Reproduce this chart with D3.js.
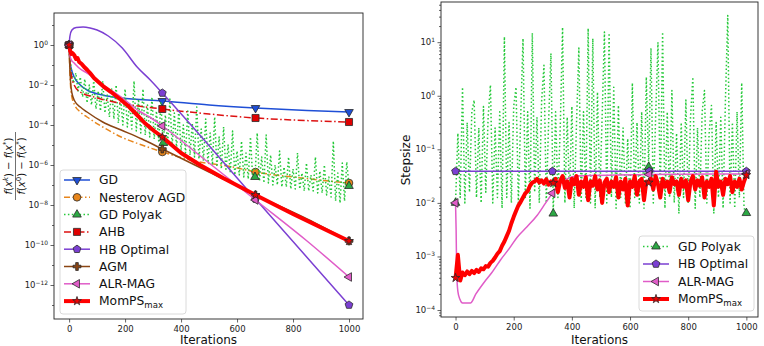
<!DOCTYPE html>
<html>
<head>
<meta charset="utf-8">
<script src="https://cdn.jsdelivr.net/npm/d3@7"></script>
<style>
  body { margin: 0; background: #fff; }
  svg { display: block; font-family: 'DejaVu Sans', sans-serif; }
</style>
</head>
<body>
<script>
const width = 764
const height = 346

// iteration grid used by the noisy series, and where the markers sit
const gridIt = d3.range(0, 1001, 8)
const markIters = [0, 333, 666, 1000]

/* ---- left panel: (f(x^k)-f(x*)) / (f(x^0)-f(x*)), stored as log10 ---- */
const gdIt = [0, 3, 8, 18, 40, 64, 120, 186, 333, 500, 666, 850, 1000]
const gdExp = [0, -0.8, -1.2, -1.6, -2.0, -2.25, -2.5, -2.65, -2.8, -3.0, -3.15, -3.28, -3.35]

const nagIt = [0, 2, 5, 10, 20, 40, 64, 120, 186, 260, 333, 450, 585, 666, 800, 1000]
const nagExp = [0, -1.0, -2.0, -2.6, -3.0, -3.35, -3.6, -4.1, -4.6, -5.0, -5.35, -5.8, -6.1, -6.35, -6.6, -6.9]

const polyakExp = [
  0, -1.3, -1.9, -1.4, -2.3, -1.6, -2.6, -1.7, -2.9, -2.0,
  -3.0, -1.8, -3.2, -2.3, -3.3, -1.8, -3.4, -2.5, -3.6, -2.2,
  -3.7, -2.0, -3.9, -2.6, -4.0, -2.2, -4.1, -2.9, -4.2, -1.8,
  -4.3, -2.7, -4.4, -2.2, -4.5, -3.0, -4.6, -2.6, -4.7, -3.3,
  -4.8, -2.9, -4.9, -3.5, -5.0, -2.7, -5.1, -3.4, -5.2, -3.2,
  -5.3, -4.0, -5.4, -3.3, -5.5, -3.9, -5.6, -3.1, -5.7, -4.2,
  -5.8, -3.7, -5.9, -4.4, -6.0, -3.6, -6.1, -4.6, -6.2, -4.1,
  -6.3, -5.0, -6.4, -4.3, -6.5, -5.3, -6.5, -4.8, -6.6, -5.4,
  -6.7, -4.6, -6.7, -6.6, -4.4, -6.8, -5.6, -6.9, -4.5, -6.9,
  -5.5, -7.0, -6.0, -7.0, -5.3, -7.1, -6.1, -7.1, -5.6, -7.2,
  -6.2, -7.2, -5.4, -7.2, -6.4, -7.3, -5.9, -7.3, -6.5, -7.3,
  -5.6, -7.4, -6.3, -7.4, -6.0, -7.5, -6.6, -7.6, -4.8, -7.8,
  -6.4, -7.9, -5.9, -7.8, -5.85, -7.05
]

const ahbIt = [0, 3, 8, 18, 40, 89, 200, 333, 500, 666, 850, 1000]
const ahbExp = [0, -0.9, -1.5, -2.0, -2.35, -2.6, -2.95, -3.2, -3.45, -3.65, -3.78, -3.85]

const hbIt = [0, 3, 10, 25, 50, 75, 100, 140, 190, 243, 290, 333, 666, 1000]
const hbExp = [0, 0.45, 0.75, 0.88, 0.9, 0.85, 0.75, 0.45, -0.15, -1.1, -1.75, -2.4, -7.7, -13.0]

const agmIt = [0, 2, 5, 10, 20, 40, 64, 120, 186, 260, 333, 500, 666, 850, 1000]
const agmExp = [0, -0.9, -1.8, -2.4, -2.8, -3.1, -3.35, -3.85, -4.25, -4.7, -5.2, -6.35, -7.5, -8.7, -9.8]

const alrIt = [0, 3, 8, 18, 40, 64, 120, 186, 250, 288, 333, 500, 666, 850, 1000]
const alrExp = [0, -0.5, -0.75, -0.9, -1.2, -1.4, -2.0, -2.6, -3.3, -3.6, -4.05, -5.9, -7.75, -9.8, -11.6]

const momIt = [0, 4, 8, 12, 18, 25, 30, 36, 45, 54, 65, 75, 89, 105, 125, 150, 186, 215, 243, 270, 304, 333, 400, 468, 550, 666, 800, 1000]
const momExp = [0, -0.3, -0.45, -0.4, -0.5, -0.7, -0.65, -0.85, -0.95, -1.1, -1.25, -1.4, -1.65, -1.85, -2.1, -2.35, -2.75, -3.1, -3.5, -3.9, -4.3, -4.6, -5.4, -6.0, -6.65, -7.5, -8.45, -9.8]

/* ---- right panel: stepsize, stored as log10 ---- */
const stepPolyakExp = [
  -2.0, -0.7, -1.9, 0.16, -2.0, -0.5, -1.8, -0.3, -0.08, -1.9,
  -0.6, -2.0, -0.2, -1.8, -0.4, 0.2, -2.0, -0.6, -1.9, -0.3,
  -2.1, 1.1, -1.9, -0.5, -2.0, -0.2, 0.16, -2.0, -0.4, 1.07,
  -1.9, -0.3, -2.1, 1.17, -1.8, -0.4, -2.0, -0.1, 0.57, -2.0,
  -0.5, 0.79, -2.2, -0.3, -1.9, -0.6, 1.28, -2.0, -0.4, -1.9,
  -0.2, -2.1, -0.5, 0.89, -2.0, -0.3, -1.9, 1.26, -2.0, 1.07,
  -2.1, 0.07, -1.9, -0.4, 1.19, -2.0, 1.17, -1.9, 0.16, -2.1,
  -0.18, -1.9, -0.6, -2.0, -0.8, -2.1, 0.24, -1.9, -0.5, -2.0,
  -0.3, -2.1, 0.35, -1.33, 0.89, -2.0, -0.4, 1.0, -1.9, 1.19,
  -2.1, -0.3, -1.9, 0.1, -2.0, -0.7, -2.2, -0.5, -1.9, -0.08,
  -2.0, -0.4, 0.35, -2.1, -0.6, -1.9, -0.3, 0.1, -2.0, -0.7,
  -0.18, -2.2, -0.5, -1.9, -0.4, -2.1, -0.08, 1.5, -2.0, -0.5,
  -2.1, -0.3, -1.9, 0.24, -2.1, -2.19
]

const stepHbIt = [0, 333, 666, 1000]
const stepHbExp = [-1.41, -1.41, -1.41, -1.41]

const stepAlrIt = [0, 2, 4, 8, 15, 24, 51, 70, 96, 125, 154, 185, 212, 245, 281, 310, 333, 370, 420, 666, 1000]
const stepAlrExp = [-2.0, -2.5, -3.3, -3.65, -3.8, -3.87, -3.87, -3.7, -3.5, -3.3, -3.07, -2.85, -2.64, -2.45, -2.23, -2.0, -1.82, -1.6, -1.5, -1.47, -1.46]

const stepMomExp = [
  -3.40, -2.97, -3.45, -3.30, -3.35, -3.28, -3.33, -3.27, -3.31, -3.25,
  -3.29, -3.22, -3.24, -3.18, -3.19, -3.12, -3.08, -3.02, -2.95, -2.90,
  -2.80, -2.72, -2.62, -2.52, -2.38, -2.26, -2.15, -2.05, -1.98, -1.90,
  -1.82, -1.78, -1.68, -1.62, -1.60, -1.55, -1.62, -1.58, -1.64, -1.56,
  -1.66, -1.60, -1.63, -1.55, -1.80, -1.58, -1.50, -1.72, -1.60, -1.90,
  -1.55, -1.65, -1.50, -1.85, -1.60, -1.70, -1.52, -1.95, -1.60, -1.68,
  -1.50, -1.75, -1.58, -2.00, -1.62, -1.55, -1.80, -1.60, -1.70, -1.52,
  -1.90, -1.60, -1.75, -1.55, -2.05, -1.60, -1.70, -1.50, -1.85, -1.60,
  -1.55, -1.95, -1.60, -1.62, -1.55, -1.75, -1.50, -1.65, -1.90, -1.55,
  -1.70, -1.60, -1.80, -1.52, -1.65, -1.60, -1.85, -1.55, -1.70, -1.58,
  -1.95, -1.60, -1.50, -1.75, -1.58, -1.68, -1.52, -1.90, -1.60, -1.70,
  -1.55, -2.05, -1.42, -1.70, -1.60, -1.85, -1.55, -1.65, -1.50, -1.80,
  -1.60, -1.70, -1.55, -1.75, -1.60, -1.48
]

// pentagon marker (matplotlib 'p')
const symbolPentagon = {
  draw(ctx, size) {
    const r = Math.sqrt(size / 2.378)
    for (let i = 0; i < 5; i++) {
      const a = -Math.PI / 2 + i * 2 * Math.PI / 5
      if (i === 0) ctx.moveTo(r * Math.cos(a), r * Math.sin(a))
      else ctx.lineTo(r * Math.cos(a), r * Math.sin(a))
    }
    ctx.closePath()
  }
}

// series styles
const S = {
  gd: { label: 'GD', color: '#1f4fd6', mfill: '#1f4fd6', lw: 1.5, shape: d3.symbolTriangle, size: 32, rot: 180 },
  nag: { label: 'Nesterov AGD', color: '#e8861c', mfill: '#e8861c', lw: 1.5, dash: '6,2.5,1.5,2.5', shape: d3.symbolCircle, size: 46 },
  polyak: { label: 'GD Polyak', color: '#26c93a', mfill: '#2ca844', lw: 1.5, dash: '1.5,2.4', shape: d3.symbolTriangle, size: 32 },
  ahb: { label: 'AHB', color: '#dd1111', mfill: '#e00000', lw: 1.5, dash: '7,2.5,1.5,2.5', shape: d3.symbolSquare, size: 50 },
  hb: { label: 'HB Optimal', color: '#7b3fd2', mfill: '#7b3fd2', lw: 1.5, shape: symbolPentagon, size: 40 },
  agm: { label: 'AGM', color: '#8b4513', mfill: '#8b4513', lw: 1.5, shape: d3.symbolCross, size: 34 },
  alr: { label: 'ALR-MAG', color: '#e05cc8', mfill: '#e05cc8', lw: 1.5, shape: d3.symbolTriangle, size: 32, rot: -90 },
  mom: { label: 'MomPS', sub: 'max', color: '#ff0000', mfill: '#ee0000', lw: 4, shape: d3.symbolStar, size: 24 }
}

const pts = (its, exps) => exps.map((e, i) => [its[i], 10 ** e])

const svg = d3.select('body').append('svg').attr('width', width).attr('height', height)

/* panels */
const L = { x0: 54, x1: 363, y0: 13, y1: 319 }
const R = { x0: 441, x1: 758, y0: 2, y1: 317 }

const xL = d3.scaleLinear().domain([-54, 1050]).range([L.x0, L.x1])
const yL = d3.scaleLog().domain([10 ** -13.7, 10 ** 1.6]).range([L.y1, L.y0])
const xR = d3.scaleLinear().domain([-50, 1040]).range([R.x0, R.x1])
const yR = d3.scaleLog().domain([10 ** -4.13, 10 ** 1.75]).range([R.y1, R.y0])

function clip(id, b) {
  svg.append('clipPath').attr('id', id).append('rect')
    .attr('x', b.x0).attr('y', b.y0).attr('width', b.x1 - b.x0).attr('height', b.y1 - b.y0)
}
clip('clipL', L)
clip('clipR', R)

function drawSeries(g, x, y, data, s, smooth) {
  const line = d3.line().x(d => x(d[0])).y(d => y(d[1]))
  if (smooth) line.curve(d3.curveMonotoneX)
  g.append('path')
    .attr('d', line(data))
    .attr('fill', 'none')
    .attr('stroke', s.color)
    .attr('stroke-width', s.lw)
    .attr('stroke-dasharray', s.dash || null)
    .attr('stroke-linejoin', 'round')
  const marks = markIters.map(m => d3.least(data, p => Math.abs(p[0] - m)))
  g.selectAll(null).data(marks).join('path')
    .attr('d', d3.symbol(s.shape, s.size))
    .attr('transform', d => `translate(${x(d[0])},${y(d[1])}) rotate(${s.rot || 0})`)
    .attr('fill', s.mfill)
    .attr('stroke', '#2a2a2a')
    .attr('stroke-width', 0.8)
}

function supLabel(sel, base, exp, size) {
  sel.append('tspan').text(base)
  sel.append('tspan').text(exp).attr('font-size', size * 0.7).attr('dy', -size * 0.4)
}

function axes(b, x, y, majors, minors) {
  const g = svg.append('g').attr('font-size', 8).attr('fill', '#222')
  g.append('g').attr('transform', `translate(0,${b.y1})`)
    .call(d3.axisBottom(x).tickValues([0, 200, 400, 600, 800, 1000]).tickFormat(d3.format('d'))
      .tickSize(3.5).tickSizeOuter(0).tickPadding(3))
  g.append('g').attr('transform', `translate(${b.x0},0)`)
    .call(d3.axisLeft(y).tickValues(majors).tickSize(3.5).tickSizeOuter(0).tickFormat(() => ''))
  g.append('g').attr('transform', `translate(${b.x0},0)`)
    .call(d3.axisLeft(y).tickValues(minors).tickSize(2).tickSizeOuter(0).tickFormat(() => ''))
  g.selectAll('.domain').remove()
  g.selectAll('.tick line').attr('stroke', '#222').attr('stroke-width', 0.7)
  g.selectAll('.tick text').attr('font-family', 'DejaVu Sans').attr('font-size', 8.5).attr('fill', '#222')
  majors.forEach(v => {
    const e = Math.round(Math.log10(v))
    const t = g.append('text').attr('x', b.x0 - 6).attr('y', y(v) + 3)
      .attr('text-anchor', 'end').attr('font-size', 8.5).attr('fill', '#222')
    supLabel(t, '10', e < 0 ? '\u2212' + (-e) : String(e), 8.5)
  })
  svg.append('rect')
    .attr('x', b.x0).attr('y', b.y0).attr('width', b.x1 - b.x0).attr('height', b.y1 - b.y0)
    .attr('fill', 'none').attr('stroke', '#222').attr('stroke-width', 0.9)
  svg.append('text').attr('x', (b.x0 + b.x1) / 2).attr('y', 344)
    .attr('text-anchor', 'middle').attr('font-size', 12).attr('fill', '#111').text('Iterations')
}

function legend(x0, y0, w, h, rowY, items) {
  const g = svg.append('g')
  g.append('rect').attr('x', x0).attr('y', y0).attr('width', w).attr('height', h).attr('rx', 3)
    .attr('fill', '#fff').attr('fill-opacity', 0.85).attr('stroke', '#d0d0d0').attr('stroke-width', 0.8)
  items.forEach((s, i) => {
    const cy = rowY[i]
    g.append('line').attr('x1', x0 + 4).attr('x2', x0 + 30).attr('y1', cy).attr('y2', cy)
      .attr('stroke', s.color).attr('stroke-width', s.lw).attr('stroke-dasharray', s.dash || null)
    g.append('path').attr('d', d3.symbol(s.shape, s.size))
      .attr('transform', `translate(${x0 + 17},${cy}) rotate(${s.rot || 0})`)
      .attr('fill', s.mfill).attr('stroke', '#2a2a2a').attr('stroke-width', 0.8)
    const t = g.append('text').attr('x', x0 + 39).attr('y', cy + 4.3).attr('font-size', 12.3).attr('fill', '#111')
    t.append('tspan').text(s.label)
    if (s.sub) t.append('tspan').text(s.sub).attr('font-size', 8.6).attr('dy', 3)
  })
}

/* ---- left panel ---- */
const gL = svg.append('g').attr('clip-path', 'url(#clipL)')
drawSeries(gL, xL, yL, pts(gdIt, gdExp), S.gd, true)
drawSeries(gL, xL, yL, pts(nagIt, nagExp), S.nag, true)
drawSeries(gL, xL, yL, pts(gridIt, polyakExp), S.polyak, false)
drawSeries(gL, xL, yL, pts(ahbIt, ahbExp), S.ahb, true)
drawSeries(gL, xL, yL, pts(hbIt, hbExp), S.hb, true)
drawSeries(gL, xL, yL, pts(agmIt, agmExp), S.agm, true)
drawSeries(gL, xL, yL, pts(alrIt, alrExp), S.alr, true)
drawSeries(gL, xL, yL, pts(momIt, momExp), S.mom, false)

axes(L, xL, yL,
  [1e0, 1e-2, 1e-4, 1e-6, 1e-8, 1e-10, 1e-12],
  [1e1, 1e-1, 1e-3, 1e-5, 1e-7, 1e-9, 1e-11, 1e-13])

legend(60, 170, 126, 144, [180, 197.3, 214.6, 231.9, 249.2, 266.5, 283.8, 301.1],
  [S.gd, S.nag, S.polyak, S.ahb, S.hb, S.agm, S.alr, S.mom])

// fraction label on the left
const yl = svg.append('g').attr('transform', 'translate(15,166) rotate(-90)')
  .attr('font-size', 10).attr('fill', '#111').attr('text-anchor', 'middle')
function fracText(y, k) {
  const t = yl.append('text').attr('y', y)
  t.append('tspan').text('f').attr('font-style', 'italic')
  t.append('tspan').text('(')
  t.append('tspan').text('x').attr('font-style', 'italic')
  t.append('tspan').text(k).attr('font-size', 7).attr('dy', -4).attr('font-style', k === 'k' ? 'italic' : null)
  t.append('tspan').text(') \u2212 ').attr('dy', 4)
  t.append('tspan').text('f').attr('font-style', 'italic')
  t.append('tspan').text('(')
  t.append('tspan').text('x').attr('font-style', 'italic')
  t.append('tspan').text('*').attr('font-size', 7).attr('dy', -4)
  t.append('tspan').text(')').attr('dy', 4)
}
fracText(-3, 'k')
fracText(10, '0')
yl.append('line').attr('x1', -34).attr('x2', 34).attr('y1', 0.5).attr('y2', 0.5)
  .attr('stroke', '#111').attr('stroke-width', 0.6)

/* ---- right panel ---- */
const gR = svg.append('g').attr('clip-path', 'url(#clipR)')
drawSeries(gR, xR, yR, pts(gridIt, stepPolyakExp), S.polyak, false)
drawSeries(gR, xR, yR, pts(stepHbIt, stepHbExp), S.hb, false)
drawSeries(gR, xR, yR, pts(stepAlrIt, stepAlrExp), S.alr, true)
drawSeries(gR, xR, yR, pts(gridIt, stepMomExp), S.mom, false)

const minorR = []
for (let e = -5; e <= 1; e++) for (let m = 2; m <= 9; m++) minorR.push(m * 10 ** e)
axes(R, xR, yR, [1e1, 1e0, 1e-1, 1e-2, 1e-3, 1e-4],
  minorR.filter(v => v >= 10 ** -4.13 && v <= 10 ** 1.75))

svg.append('text').attr('transform', 'translate(410,160) rotate(-90)')
  .attr('text-anchor', 'middle').attr('font-size', 12).attr('fill', '#111').text('Stepsize')

legend(639, 236, 115, 75, [246.5, 264, 281.5, 299], [S.polyak, S.hb, S.alr, S.mom])
</script>
</body>
</html>
